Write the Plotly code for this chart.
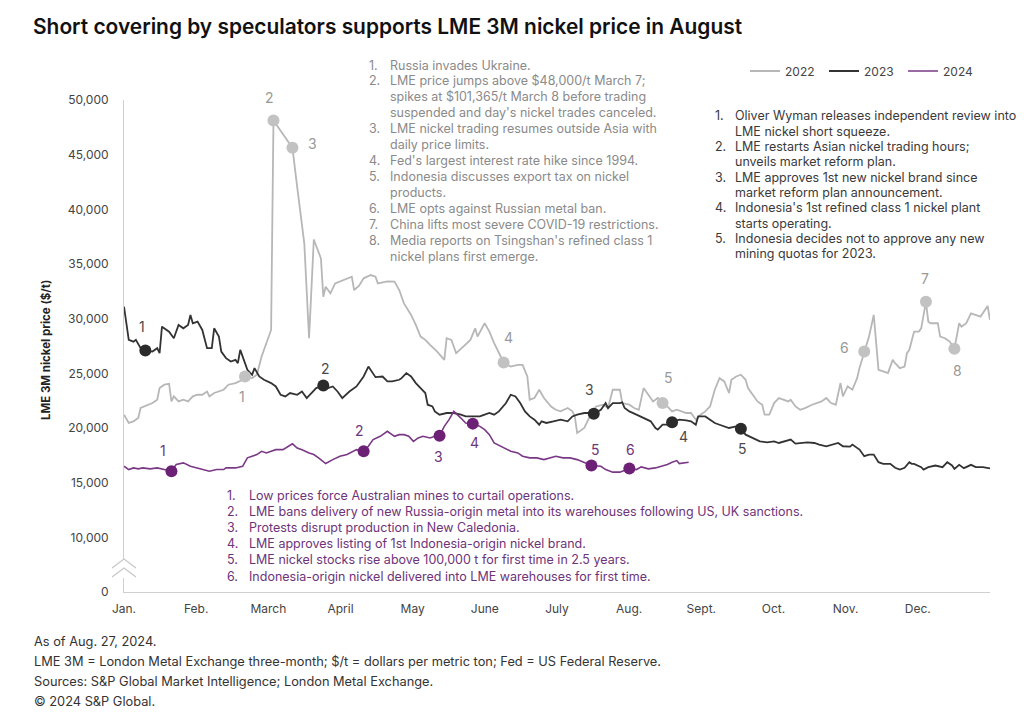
import plotly.graph_objects as go

# ---------------- data (x = day of year, 0 = Jan 1) ----------------
d2022 = [0,2,4,6,7,10,12,14,15,17,19,20,21,23,25,27,29,31,33,35,36,38,40,42,44,47,50,51,54,56,58,60,62,63,71,73,76,78,80,83,84,85,87,89,91,94,96,97,99,101,104,106,107,111,114,116,118,121,123,125,127,129,132,135,136,138,140,143,146,148,149,152,154,156,158,160,163,166,168,170,171,173,175,177,180,182,184,187,189,190,191,194,196,199,202,204,206,209,210,213,215,217,219,221,223,225,227,229,231,233,235,237,239,241,243,245,247,249,251,253,255,256,258,260,262,263,265,267,269,270,272,274,276,278,280,281,283,285,287,290,292,294,296,298,300,302,303,305,307,309,310,312,314,316,318,320,322,324,325,327,329,330,331,333,335,336,338,339,340,343,344,346,348,350,352,353,355,357,359,361,364,365]
v2022 = [21220,20460,20610,20910,21830,22130,22280,22590,23650,23960,24040,22430,22890,22430,22590,22430,22890,23040,23040,23340,22890,23200,23340,23500,23960,24110,24410,24710,24560,24870,26540,27760,28970,48120,45630,42040,36870,28210,37240,35510,32010,32920,32320,33230,33390,33690,33840,32620,33000,33690,33990,33840,33230,33400,33390,32620,31400,30340,29430,28360,28060,27600,26990,26230,28210,28060,26840,27450,28060,29120,28360,29580,28820,27760,26840,25990,25620,25770,25770,24710,22590,22740,23500,22740,21970,21670,21520,21830,21520,21060,19550,20000,20910,21970,22130,21830,23500,23500,22280,22130,21830,21670,23650,23040,22430,22740,22280,21970,21520,21670,21520,21370,21370,20760,21220,21520,21970,23500,24560,24260,23200,24410,24710,24870,24410,23650,23040,22430,22130,21220,21220,22280,22740,22590,22430,22590,21970,21670,21820,22130,22280,22430,22740,22280,22130,24110,22890,23800,23500,24560,25500,27000,28360,30340,25320,25170,25020,26230,25930,25470,25620,26840,27150,28820,28820,29120,31540,29730,29580,29580,28360,28210,27910,27240,29580,29270,29580,30490,30340,30190,31160,29880]

d2023 = [0,2,4,5,7,9,12,14,15,16,19,21,23,25,27,28,29,31,33,35,37,38,40,41,43,45,47,48,49,50,52,54,55,57,59,62,64,66,68,70,73,75,77,79,81,84,86,88,90,92,95,98,101,103,104,106,109,111,113,116,117,119,121,123,125,127,128,130,131,133,136,139,142,144,147,150,152,154,156,158,161,163,165,167,169,171,173,175,176,178,181,184,187,189,191,194,196,198,201,202,203,204,206,209,210,211,213,216,219,222,224,225,227,229,231,234,237,239,241,242,245,247,249,251,253,255,258,260,262,265,268,271,274,276,279,281,283,285,288,291,293,296,299,301,303,306,307,310,312,314,316,318,320,323,325,327,329,331,332,333,336,337,339,342,345,347,349,350,352,354,357,359,362,365]
v2023 = [31100,28060,27900,28060,27300,27080,26990,27300,26840,29270,28810,28210,29430,29120,29430,30340,29580,29730,28970,27300,27300,29120,28360,26990,26390,26080,26230,25930,27150,26530,25320,24870,25480,24710,24410,24110,23800,23040,22890,23200,23040,23340,22740,23200,23650,23890,23650,23800,23340,22740,23340,23800,24710,25620,25320,24650,24710,24260,24260,24410,24560,25020,24710,24110,23650,23200,22130,21970,21520,21220,21370,21370,21220,21060,21060,21060,21220,21370,21220,21520,22280,23040,22890,22280,21520,21060,20760,20300,20610,20460,20610,20760,20610,21060,21220,21370,21370,21310,21670,21970,22280,21820,22280,22280,22340,21830,21520,21220,20910,20610,20000,19850,20300,20300,20520,20760,20700,20610,20300,21060,21060,20760,20460,20300,20150,20000,20150,19940,19390,19090,18780,18690,18780,18630,18780,18940,18570,18630,18690,18630,18480,18330,18480,18630,18330,18300,18480,18030,17420,17570,17570,16870,16720,16720,16360,16200,16360,16870,16720,16720,16420,16200,16420,16570,16420,16870,16570,16260,16630,16330,16630,16420,16420,16300]

d2024 = [0,2,4,6,8,11,14,17,20,22,25,28,31,33,36,39,42,43,47,50,52,54,56,58,60,62,64,67,71,73,75,78,80,82,84,85,88,91,94,98,101,103,105,108,111,114,116,118,120,122,124,126,129,131,133,135,137,139,142,144,147,150,152,154,156,159,163,166,168,171,174,177,180,182,185,188,191,194,197,201,203,206,209,213,216,218,221,224,227,229,231,233,234,237,238]
v2024 = [16500,16200,16350,16260,16350,16260,16350,16200,16050,16660,16810,16500,16350,16200,16050,16200,16200,16350,16350,16500,17270,17420,17570,17870,17720,17870,18020,18020,18550,18170,18020,17720,17570,17270,16960,16750,17110,17420,17570,18020,17870,18330,18940,19240,19700,19240,19390,19390,19240,18780,19090,19240,19090,19240,19300,20150,20760,21520,20910,20460,20400,20150,19850,19390,18640,18330,17870,17720,17420,17270,17270,17110,17270,17420,17270,17270,17110,16810,16570,16500,16200,15960,15960,16290,16200,16440,16260,16350,16500,16660,16870,17020,16750,16810,16870]

# event markers
ev22_d = [51, 63, 71, 160, 227, 312, 338, 350]
ev22_v = [24710, 48120, 45630, 25990, 22280, 27000, 31540, 27240]
ev23_d = [9, 84, 198, 231, 260]
ev23_v = [27080, 23890, 21310, 20520, 19940]
ev24_d = [20, 101, 133, 147, 197, 213]
ev24_v = [16050, 17870, 19300, 20400, 16570, 16290]

months = ["Jan.", "Feb.", "March", "April", "May", "June", "July", "Aug.", "Sept.", "Oct.", "Nov.", "Dec."]
ytick_vals = [5000, 10000, 15000, 20000, 25000, 30000, 35000, 40000, 45000, 50000]
ytick_text = ["0", "10,000", "15,000", "20,000", "25,000", "30,000", "35,000", "40,000", "45,000", "50,000"]

notes22 = [["Russia invades Ukraine."],
           ["LME price jumps above $48,000/t March 7;", "spikes at $101,365/t March 8 before trading",
            "suspended and day's nickel trades canceled."],
           ["LME nickel trading resumes outside Asia with", "daily price limits."],
           ["Fed's largest interest rate hike since 1994."],
           ["Indonesia discusses export tax on nickel", "products."],
           ["LME opts against Russian metal ban."],
           ["China lifts most severe COVID-19 restrictions."],
           ["Media reports on Tsingshan's refined class 1", "nickel plans first emerge."]]
notes23 = [["Oliver Wyman releases independent review into", "LME nickel short squeeze."],
           ["LME restarts Asian nickel trading hours;", "unveils market reform plan."],
           ["LME approves 1st new nickel brand since", "market reform plan announcement."],
           ["Indonesia's 1st refined class 1 nickel plant", "starts operating."],
           ["Indonesia decides not to approve any new", "mining quotas for 2023."]]
notes24 = [["Low prices force Australian mines to curtail operations."],
           ["LME bans delivery of new Russia-origin metal into its warehouses following US, UK sanctions."],
           ["Protests disrupt production in New Caledonia."],
           ["LME approves listing of 1st Indonesia-origin nickel brand."],
           ["LME nickel stocks rise above 100,000 t for first time in 2.5 years."],
           ["Indonesia-origin nickel delivered into LME warehouses for first time."]]

footer = ["As of Aug. 27, 2024.",
          "LME 3M = London Metal Exchange three-month; $/t = dollars per metric ton; Fed = US Federal Reserve.",
          "Sources: S&P Global Market Intelligence; London Metal Exchange.",
          "\u00a9 2024 S&P Global."]

# ---------------- styles ----------------
FONT = "Inter"
C22, C23, C24 = "#b7b7b7", "#333333", "#7a3886"
M22, M23, M24 = "#c2c2c2", "#2b2b2b", "#6c2176"
T22, T23, T24 = "#8a8a8a", "#3a3a3a", "#6e3479"

W, H = 1024, 715
L, R, T, B = 124, 34, 100, 123
PW, PH = W - L - R, H - T - B


def px(x):
    return (x - L) / PW


def py(y):
    return (H - B - y) / PH


fig = go.Figure()
for d, v, c, name, w in [(d2022, v2022, C22, "2022", 1.8), (d2023, v2023, C23, "2023", 1.8),
                         (d2024, v2024, C24, "2024", 1.6)]:
    fig.add_trace(go.Scatter(x=d, y=v, mode="lines", name=name,
                             line=dict(color=c, width=w), hoverinfo="skip"))

shifts22 = [(-3, -20), (-4, 23), (20, 4), (5, 25), (6, 26), (-20, 4), (-1, 23), (3, -22)]
shifts23 = [(-3, 24), (2, 17), (-4, 24), (11, -14), (2, -20)]
shifts24 = [(-8, 21), (-4, 21), (-1, -21), (2, -19), (4, 16), (1, 19)]

annotations = []
for d, v, mc, tc, sh in [(ev22_d, ev22_v, M22, "#999999", shifts22),
                         (ev23_d, ev23_v, M23, "#4a4a4a", shifts23),
                         (ev24_d, ev24_v, M24, T24, shifts24)]:
    fig.add_trace(go.Scatter(x=d, y=v, mode="markers", showlegend=False, hoverinfo="skip",
                             marker=dict(color=mc, size=12, line=dict(width=0))))
    for i, (xx, yy) in enumerate(zip(d, v)):
        annotations.append(dict(x=xx, y=yy, xref="x", yref="y", text=str(i + 1), showarrow=False,
                                xshift=sh[i][0], yshift=sh[i][1],
                                font=dict(family=FONT, size=14, color=tc)))

NOTE_SIZE = 12.5


def add_block(notes, numx, textx, y0, dy, color):
    line = 0
    for i, item in enumerate(notes):
        annotations.append(dict(x=px(numx), y=py(y0 + line * dy), xref="paper", yref="paper",
                                text=f"{i + 1}.", showarrow=False, xanchor="left", yanchor="middle",
                                font=dict(family=FONT, size=NOTE_SIZE, color=color)))
        for t in item:
            annotations.append(dict(x=px(textx), y=py(y0 + line * dy), xref="paper", yref="paper",
                                    text=t, showarrow=False, xanchor="left", yanchor="middle",
                                    font=dict(family=FONT, size=NOTE_SIZE, color=color)))
            line += 1


add_block(notes22, 367, 388, 65, 15.97, T22)
add_block(notes23, 713, 733, 116, 15.3, T23)
add_block(notes24, 225, 247, 495, 16.2, T24)

for i, t in enumerate(footer):
    annotations.append(dict(x=px(32), y=py(641.5 + i * 20), xref="paper", yref="paper", text=t,
                            showarrow=False, xanchor="left", yanchor="middle",
                            font=dict(family=FONT, size=12.8, color="#333333")))

annotations.append(dict(x=px(46), y=py(350), xref="paper", yref="paper",
                        text="<b>LME 3M nickel price ($/t)</b>", textangle=-90, showarrow=False,
                        xanchor="center", yanchor="middle",
                        font=dict(family=FONT, size=11.5, color="#222222")))

# axis break symbol
shapes = [
    dict(type="rect", xref="paper", yref="paper", x0=px(121), x1=px(127), y0=py(578), y1=py(560),
         fillcolor="white", line=dict(width=0), layer="above"),
    dict(type="path", xref="paper", yref="paper", layer="above",
         path=f"M {px(112)} {py(568)} L {px(124)} {py(559)} L {px(136)} {py(568)}",
         line=dict(color="#c8c8c8", width=1.3)),
    dict(type="path", xref="paper", yref="paper", layer="above",
         path=f"M {px(112)} {py(577)} L {px(124)} {py(568)} L {px(136)} {py(577)}",
         line=dict(color="#c8c8c8", width=1.3)),
]

fig.update_layout(
    width=W, height=H,
    margin=dict(l=L, r=R, t=T, b=B),
    paper_bgcolor="white", plot_bgcolor="white",
    font=dict(family=FONT, size=12, color="#444444"),
    title=dict(text="Short covering by speculators supports LME 3M nickel price in August",
               x=33 / W, y=1 - 27 / H, xanchor="left", yanchor="middle", xref="container", yref="container",
               font=dict(family=FONT, size=20.9, weight=600, color="#111111")),
    legend=dict(orientation="h", x=px(745), y=py(71), xanchor="left", yanchor="middle",
                font=dict(family=FONT, size=12, color="#444444"), bgcolor="rgba(0,0,0,0)",
                entrywidth=34, entrywidthmode="pixels", itemwidth=30),
    xaxis=dict(range=[0, 365], tickvals=[i * 365 / 12 for i in range(12)], ticktext=months,
               showgrid=False, zeroline=False, showline=True, linecolor="#d0d0d0", linewidth=1,
               ticks="", ticklabelstandoff=6, tickfont=dict(family=FONT, size=12, color="#444444")),
    yaxis=dict(range=[5000, 50000], tickvals=ytick_vals, ticktext=ytick_text,
               showgrid=False, zeroline=False, showline=True, linecolor="#d0d0d0", linewidth=1,
               ticks="", ticklabelstandoff=12, tickfont=dict(family=FONT, size=12, color="#444444")),
    annotations=annotations,
    shapes=shapes,
)

fig.write_html("out.html")
